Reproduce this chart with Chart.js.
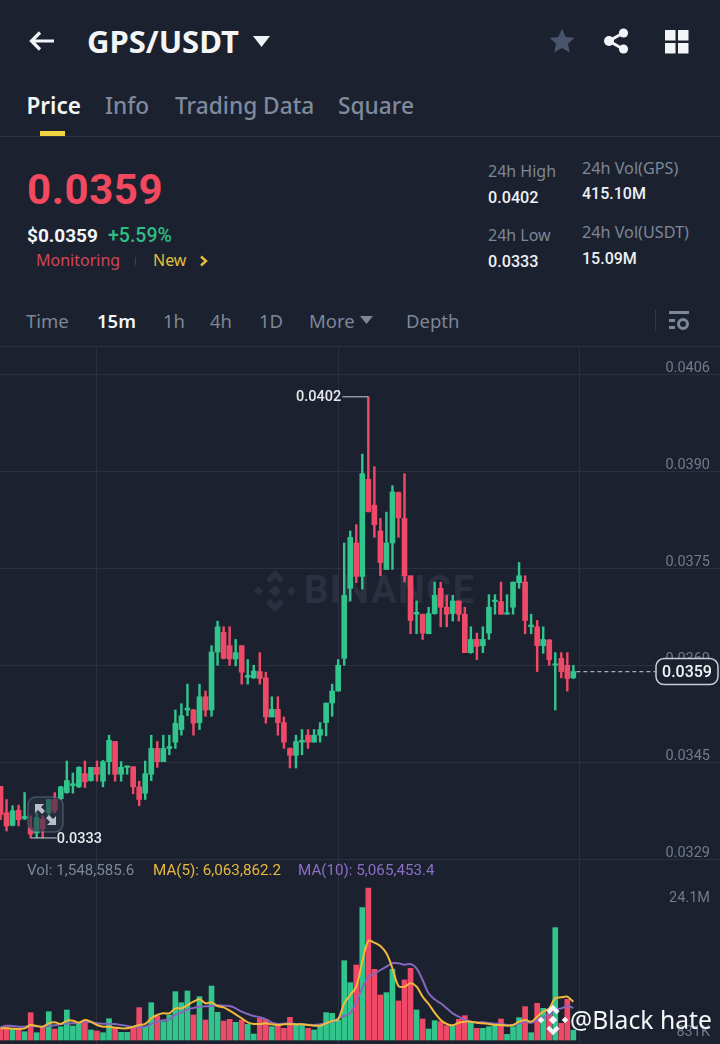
<!DOCTYPE html>
<html><head><meta charset="utf-8">
<script src="https://cdn.jsdelivr.net/npm/chart.js@4"></script>
<style>
html,body{margin:0;padding:0;background:#1b212e;}
#page{position:relative;width:720px;height:1044px;overflow:hidden;background:#1b212e;font-family:Roboto,"Noto Sans",sans-serif;}
.t{position:absolute;white-space:nowrap;line-height:1;}
.n{font-family:"Noto Sans",Roboto,sans-serif;}
.g{color:#7d8797;}
svg{position:absolute;}
canvas{position:absolute;left:0;top:347px;}
</style></head><body><div id="page">
<svg style="left:28px;top:29px" width="28" height="24" viewBox="0 0 28 24"><path d="M26 12H4M12 3.500L3.500 12L12 20.500" fill="none" stroke="#f2f4f7" stroke-width="3.200"/></svg>
<div class="t n" style="left:87px;top:26px;font-size:31px;font-weight:700;color:#f4f5f7;">GPS/USDT</div>
<svg style="left:252px;top:35px" width="19" height="13"><path d="M1 1H18L9.500 12Z" fill="#eef1f5"/></svg>
<svg style="left:548px;top:27px" width="28" height="28" viewBox="0 0 24 24"><path d="M12 1.500l3.200 7 7.400.8-5.500 5 1.600 7.500L12 18l-6.700 3.800 1.600-7.500-5.500-5 7.400-.8z" fill="#48536c"/></svg>
<svg style="left:602px;top:27px" width="28" height="28" viewBox="0 0 28 28"><path d="M21 6L7 14L21 22" stroke="#f2f4f7" stroke-width="3" fill="none"/><circle cx="21.500" cy="6" r="4.600" fill="#f2f4f7"/><circle cx="7" cy="14" r="5" fill="#f2f4f7"/><circle cx="21.500" cy="22" r="4.600" fill="#f2f4f7"/></svg>
<svg style="left:665px;top:30px" width="24" height="24"><rect width="10.500" height="10.500" fill="#f2f4f7"/><rect x="13" width="10.500" height="10.500" fill="#f2f4f7"/><rect y="13" width="10.500" height="10.500" fill="#f2f4f7"/><rect x="13" y="13" width="10.500" height="10.500" fill="#f2f4f7"/></svg>

<div class="t n" style="left:26.500px;top:95px;font-size:22.500px;font-weight:600;color:#f4f5f7;">Price</div>
<div class="t n" style="left:105px;top:95px;font-size:22.700px;font-weight:500;color:#7f8a9e;">Info</div>
<div class="t n" style="left:175px;top:95px;font-size:22.700px;font-weight:500;color:#7f8a9e;">Trading Data</div>
<div class="t n" style="left:338px;top:95px;font-size:22.700px;font-weight:500;color:#7f8a9e;">Square</div>
<div style="position:absolute;left:40px;top:131px;width:25px;height:6px;background:#f3d53f"></div>
<div style="position:absolute;left:0;top:136px;width:720px;height:1px;background:#2a3143"></div>

<div class="t" style="left:27px;top:169px;font-size:42px;font-weight:700;color:#f1495f;letter-spacing:.6px">0.0359</div>
<div class="t" style="left:27px;top:226px;font-size:19px;font-weight:700;color:#f2f4f7;">$0.0359</div>
<div class="t" style="left:108px;top:226px;font-size:19.500px;font-weight:500;color:#2ebd85;">+5.59%</div>
<div class="t n" style="left:36px;top:252px;font-size:16px;color:#cf4659;">Monitoring</div>
<div style="position:absolute;left:135px;top:257px;width:1px;height:8px;background:#3a4152"></div>
<div class="t n" style="left:153px;top:252px;font-size:16px;color:#e5bd3c;">New</div>
<svg style="left:199px;top:255px" width="10" height="12"><path d="M2 1.500L7 6L2 10.500" fill="none" stroke="#e5bd3c" stroke-width="2.400"/></svg>

<div class="t n g" style="left:488px;top:163px;font-size:16px;">24h High</div>
<div class="t" style="left:488px;top:190px;font-size:16.200px;font-weight:500;color:#eef0f4;">0.0402</div>
<div class="t n g" style="left:488px;top:227px;font-size:16px;">24h Low</div>
<div class="t" style="left:488px;top:254px;font-size:16.200px;font-weight:500;color:#eef0f4;">0.0333</div>
<div class="t n g" style="left:582px;top:160px;font-size:16.200px;">24h Vol(GPS)</div>
<div class="t" style="left:582px;top:186px;font-size:16px;font-weight:500;color:#eef0f4;">415.10M</div>
<div class="t n g" style="left:582px;top:224px;font-size:16.200px;">24h Vol(USDT)</div>
<div class="t" style="left:582px;top:251px;font-size:16px;font-weight:500;color:#eef0f4;">15.09M</div>

<div class="t n g" style="left:26px;top:312px;font-size:18.500px;">Time</div>
<div class="t n" style="left:97px;top:312px;font-size:18.500px;font-weight:600;color:#f2f4f7;">15m</div>
<div class="t n g" style="left:163px;top:312px;font-size:18.500px;">1h</div>
<div class="t n g" style="left:210px;top:312px;font-size:18.500px;">4h</div>
<div class="t n g" style="left:259px;top:312px;font-size:18.500px;">1D</div>
<div class="t n g" style="left:309px;top:312px;font-size:18.500px;">More</div>
<svg style="left:360px;top:316px" width="13" height="9"><path d="M0 0H13L6.500 8Z" fill="#7d8797"/></svg>
<div class="t n g" style="left:406px;top:312px;font-size:18.500px;">Depth</div>
<div style="position:absolute;left:655px;top:310px;width:1px;height:21px;background:#323949"></div>
<svg style="left:668px;top:310px" width="23" height="22"><rect x="1" y="1" width="20" height="3" fill="#7d8797"/><rect x="1" y="9" width="6" height="3" fill="#7d8797"/><rect x="1" y="16" width="6" height="3" fill="#7d8797"/><circle cx="15" cy="14" r="4.500" fill="none" stroke="#7d8797" stroke-width="3"/></svg>
<div style="position:absolute;left:0;top:346px;width:720px;height:1px;background:#2a3143"></div>

<svg style="left:253px;top:569px" width="44" height="44" viewBox="0 0 44 44" fill="#2a3040"><path d="M22 1l9 9-4 4-5-5-5 5-4-4zM22 43l-9-9 4-4 5 5 5-5 4 4zM1 22l4.500-4.500 4.500 4.500-4.500 4.500zM34 22l4.500-4.500 4.500 4.500-4.500 4.500zM22 16l6 6-6 6-6-6z"/></svg>
<div class="t" style="left:304px;top:571px;font-size:38px;font-weight:700;color:#2a3040;letter-spacing:1.500px;">BINANCE</div>

<canvas id="c" width="720" height="697"></canvas>

<div class="t" style="left:27px;top:863px;font-size:15.200px;color:#7d8797;">Vol: 1,548,585.6</div>
<div class="t" style="left:153px;top:863px;font-size:15.200px;color:#e8b93f;">MA(5): 6,063,862.2</div>
<div class="t" style="left:298px;top:863px;font-size:15.200px;color:#8b6fc6;">MA(10): 5,065,453.4</div>

<svg style="left:27px;top:796px" width="37" height="37" viewBox="0 0 37 37"><rect x="1" y="1" width="35" height="35" rx="8" fill="rgba(44,52,70,.62)" stroke="rgba(125,135,155,.45)" stroke-width="1.500"/><path d="M8 8h9l-3 3 4 4-3 3-4-4-3 3zM29 29h-9l3-3-4-4 3-3 4 4 3-3z" fill="#b9bfca"/></svg>

<svg style="left:537px;top:1004px" width="32" height="32" viewBox="0 0 44 44" fill="#f2f4f7"><path d="M22 1l9 9-4 4-5-5-5 5-4-4zM22 43l-9-9 4-4 5 5 5-5 4 4zM1 22l4.500-4.500 4.500 4.500-4.500 4.500zM34 22l4.500-4.500 4.500 4.500-4.500 4.500zM22 16l6 6-6 6-6-6z"/></svg>
<div class="t n" style="left:570px;top:1008px;font-size:24.700px;color:#f6f7f9;">@Black hate</div>
</div>
<script>
const opens=[0.03406,0.03364,0.03344,0.03368,0.03355,0.03340,0.03332,0.03354,0.03364,0.03385,0.03386,0.03396,0.03407,0.03405,0.03426,0.03415,0.03436,0.03414,0.03445,0.03477,0.03425,0.03436,0.03437,0.03405,0.03395,0.03425,0.03466,0.03445,0.03466,0.03476,0.03496,0.03527,0.03527,0.03507,0.03548,0.03527,0.03619,0.03650,0.03629,0.03608,
0.03629,0.03579,0.03578,0.03588,0.03578,0.03516,0.03528,0.03507,0.03466,0.03455,0.03476,0.03487,0.03476,0.03487,0.03507,0.03538,0.03557,0.03609,0.03720,0.03792,0.03739,0.03893,0.03852,0.03811,0.03750,0.03792,0.03872,0.03831,0.03740,0.03679,0.03679,0.03648,0.03680,0.03720,0.03690,0.03680,0.03700,0.03679,
0.03618,0.03639,0.03629,0.03649,0.03699,0.03699,0.03679,0.03690,0.03729,0.03730,0.03659,0.03659,0.03629,0.03638,0.03598,0.03609,0.03598,0.03578];
const highs=[0.03406,0.03385,0.03375,0.03376,0.03396,0.03359,0.03364,0.03359,0.03385,0.03396,0.03406,0.03446,0.03427,0.03437,0.03446,0.03436,0.03446,0.03447,0.03487,0.03477,0.03445,0.03438,0.03437,0.03414,0.03446,0.03487,0.03477,0.03487,0.03487,0.03527,0.03537,0.03568,0.03528,0.03568,0.03557,0.03629,0.03668,0.03659,0.03659,0.03639,
0.03629,0.03607,0.03598,0.03618,0.03587,0.03548,0.03548,0.03516,0.03467,0.03487,0.03496,0.03496,0.03496,0.03507,0.03538,0.03568,0.03607,0.03792,0.03811,0.03821,0.03933,0.04024,0.03913,0.03831,0.03841,0.03883,0.03873,0.03902,0.03740,0.03700,0.03679,0.03690,0.03730,0.03730,0.03709,0.03709,0.03700,0.03690,
0.03659,0.03649,0.03659,0.03710,0.03710,0.03730,0.03710,0.03730,0.03761,0.03740,0.03679,0.03669,0.03659,0.03639,0.03618,0.03618,0.03618,0.03598];
const lows=[0.03353,0.03335,0.03343,0.03343,0.03353,0.03324,0.03324,0.03324,0.03359,0.03364,0.03385,0.03395,0.03395,0.03404,0.03404,0.03414,0.03414,0.03405,0.03425,0.03414,0.03414,0.03425,0.03394,0.03375,0.03385,0.03415,0.03436,0.03445,0.03456,0.03466,0.03487,0.03518,0.03487,0.03496,0.03517,0.03517,0.03598,0.03608,0.03598,0.03597,
0.03568,0.03568,0.03577,0.03568,0.03506,0.03516,0.03487,0.03466,0.03435,0.03435,0.03456,0.03466,0.03476,0.03476,0.03486,0.03517,0.03557,0.03598,0.03700,0.03729,0.03719,0.03841,0.03801,0.03740,0.03750,0.03750,0.03801,0.03730,0.03648,0.03648,0.03639,0.03648,0.03679,0.03659,0.03659,0.03668,0.03668,0.03618,
0.03617,0.03607,0.03618,0.03639,0.03679,0.03679,0.03679,0.03679,0.03720,0.03648,0.03648,0.03588,0.03617,0.03598,0.03527,0.03578,0.03557,0.03577];
const closes=[0.03361,0.03343,0.03367,0.03353,0.03358,0.03330,0.03356,0.03338,0.03385,0.03367,0.03405,0.03415,0.03410,0.03436,0.03413,0.03436,0.03425,0.03445,0.03479,0.03425,0.03436,0.03438,0.03405,0.03385,0.03426,0.03466,0.03445,0.03466,0.03469,0.03506,0.03518,0.03530,0.03506,0.03548,0.03527,0.03619,0.03659,0.03609,0.03608,0.03618,
0.03587,0.03582,0.03589,0.03577,0.03516,0.03528,0.03507,0.03476,0.03455,0.03477,0.03479,0.03476,0.03487,0.03496,0.03538,0.03557,0.03598,0.03709,0.03801,0.03739,0.03902,0.03842,0.03821,0.03761,0.03792,0.03873,0.03832,0.03740,0.03669,0.03682,0.03649,0.03680,0.03709,0.03690,0.03679,0.03700,0.03679,0.03618,
0.03639,0.03628,0.03639,0.03690,0.03701,0.03679,0.03681,0.03730,0.03740,0.03669,0.03662,0.03629,0.03639,0.03607,0.03600,0.03588,0.03577,0.03588];
const volumes=[1.85,2.11,1.74,1.85,1.32,4.34,1.16,2.11,4.49,1.74,2.11,4.76,2.22,2.64,2.91,1.59,1.43,1.16,3.38,1.85,1.22,1.22,1.96,5.13,2.11,5.92,3.81,2.91,3.97,7.67,5.92,7.77,3.97,6.87,3.17,8.56,4.39,3.01,3.28,2.80,
3.17,2.48,0.95,3.44,3.28,2.11,2.38,1.85,3.60,2.54,2.54,1.85,1.59,2.27,4.34,4.23,3.17,12.58,9.09,11.90,20.99,24.10,11.21,7.14,7.51,11.21,6.19,9.52,11.37,4.76,3.33,1.74,3.07,2.91,2.27,2.27,3.28,3.86,2.91,1.85,
1.85,2.11,2.27,3.33,0.90,2.11,3.54,5.29,1.16,5.82,5.02,4.23,17.82,2.64,6.45,1.55];
const ma5=[1.85,1.85,1.80,1.74,1.85,2.38,2.22,2.11,2.64,2.80,2.54,3.07,3.07,2.75,3.17,2.91,2.38,2.11,2.11,1.96,1.85,1.85,2.11,2.38,2.54,3.44,3.97,4.23,4.23,5.02,5.02,5.55,6.08,6.45,5.82,5.97,5.39,5.18,4.65,4.07,
3.44,2.80,2.54,2.54,2.64,2.48,2.38,2.48,2.54,2.48,2.48,2.38,2.27,2.27,2.64,3.01,3.28,5.82,7.14,8.46,12.42,15.70,15.44,14.91,13.75,11.37,8.56,8.46,8.99,8.46,6.87,5.71,4.34,3.17,2.54,2.33,2.75,2.91,2.91,2.75,
2.64,2.54,2.38,2.38,2.27,2.38,2.91,3.17,2.91,3.70,4.49,5.02,6.61,6.77,6.87,6.06];
const ma10=[2.01,2.27,2.22,2.11,2.11,2.22,2.17,2.11,2.22,2.33,2.54,2.59,2.64,2.75,2.91,2.80,2.64,2.59,2.54,2.54,2.38,2.22,2.01,2.06,2.11,2.54,2.91,3.12,3.28,3.97,4.34,4.86,5.08,5.29,5.34,5.39,5.50,5.45,5.39,5.02,
4.49,4.12,3.81,3.60,3.28,2.75,2.54,2.59,2.64,2.54,2.48,2.43,2.38,2.48,2.64,2.91,3.44,3.81,4.23,6.08,8.19,10.05,10.47,11.10,11.63,12.16,12.16,11.95,12.05,11.37,9.52,7.40,6.45,5.82,5.02,4.23,3.70,3.17,2.91,2.80,
2.80,2.70,2.59,2.54,2.38,2.38,2.64,2.91,2.75,3.17,3.60,3.97,4.76,5.02,5.39,5.07];
const priceTicks=[0.0406,0.03906,0.03752,0.03598,0.03444,0.0329];
const priceTickLabels=["0.0406","0.0390","0.0375","0.0360","0.0345","0.0329"];
const volTicks=[22.5,1.27];
const volTickLabels=["24.1M","831K"];
const timeGrid=[16,56,96];
const highMark={i:61,value:0.04024,label:"0.0402"};
const lowMark={i:5,value:0.03324,label:"0.0333"};
const lastPrice={value:0.03588,label:"0.0359"};

const GREEN="#31c48d",RED="#ee4a68";
const idx=opens.map((_,i)=>i);
const colors=idx.map(i=>closes[i]>=opens[i]?GREEN:RED);
const base={type:'bar',grouped:false,borderWidth:0,backgroundColor:colors,xAxisID:'x'};
const marks={id:'marks',afterDatasetsDraw(ch){
  const {ctx,scales:{x,price}}=ch;
  ctx.save();
  ctx.font='500 14.5px Roboto';ctx.textBaseline='middle';
  let yy=price.getPixelForValue(highMark.value),xx=x.getPixelForValue(highMark.i);
  ctx.strokeStyle='#aeb4bf';ctx.lineWidth=1.2;ctx.beginPath();ctx.moveTo(xx,yy);ctx.lineTo(xx-26,yy);ctx.stroke();
  ctx.fillStyle='#e6e8ec';ctx.textAlign='right';ctx.fillText(highMark.label,xx-27,yy+1);
  yy=price.getPixelForValue(lowMark.value);xx=x.getPixelForValue(lowMark.i);
  ctx.beginPath();ctx.moveTo(xx,yy);ctx.lineTo(xx+26,yy);ctx.stroke();
  ctx.textAlign='left';ctx.fillText(lowMark.label,xx+26,yy+1);
  yy=price.getPixelForValue(lastPrice.value);xx=x.getPixelForValue(95);
  ctx.setLineDash([4,3]);ctx.strokeStyle='#a4abb7';ctx.lineWidth=1.3;
  ctx.beginPath();ctx.moveTo(xx+3,yy);ctx.lineTo(655,yy);ctx.stroke();ctx.setLineDash([]);
  ctx.fillStyle='#1b212e';ctx.strokeStyle='#c8cdd5';ctx.lineWidth=1.5;
  ctx.beginPath();ctx.roundRect(656,yy-13,62,26,8);ctx.fill();ctx.stroke();
  ctx.fillStyle='#f2f4f7';ctx.font='500 16px Roboto';ctx.textAlign='center';ctx.fillText(lastPrice.label,687,yy+1);
  ctx.restore();
}};
new Chart(document.getElementById('c'),{
  data:{datasets:[
    {...base,label:'Volume',yAxisID:'vol',order:4,barThickness:5,data:idx.map(i=>({x:i,y:volumes[i]}))},
    {...base,label:'Wick',yAxisID:'price',order:3,barThickness:1.8,data:idx.map(i=>({x:i,y:[lows[i],highs[i]]}))},
    {...base,label:'Body',yAxisID:'price',order:2,barThickness:5,minBarLength:1.5,data:idx.map(i=>({x:i,y:[opens[i],closes[i]]}))},
    {type:'line',label:'MA(10)',yAxisID:'vol',order:1,borderColor:'#8467bd',borderWidth:2,pointRadius:0,tension:.35,data:idx.map(i=>({x:i,y:ma10[i]}))},
    {type:'line',label:'MA(5)',yAxisID:'vol',order:0,borderColor:'#f3b93a',borderWidth:2,pointRadius:0,tension:.35,data:idx.map(i=>({x:i,y:ma5[i]}))}
  ]},
  options:{responsive:false,animation:false,devicePixelRatio:1,
    layout:{padding:0},
    plugins:{legend:{display:false},tooltip:{enabled:false}},
    scales:{
      x:{type:'linear',min:-0.083,max:119.32,offset:false,
        afterBuildTicks(s){s.ticks=timeGrid.map(v=>({value:v}));},
        afterFit(s){s.height=0;},
        ticks:{display:false},border:{display:false},
        grid:{offset:false,color:'#2a3040',lineWidth:1,drawTicks:false}},
      price:{type:'linear',position:'right',min:0.02997,max:0.04103,
        afterBuildTicks(s){s.ticks=priceTicks.map(v=>({value:v}));},
        afterFit(s){s.width=0;},
        border:{display:false},
        grid:{color:'#2a3040',lineWidth:1,drawTicks:false},
        ticks:{mirror:true,padding:-10,labelOffset:-6,color:'#717b8b',font:{family:'Roboto',size:14.5},
          callback:(v,i)=>priceTickLabels[i]}},
      vol:{type:'linear',position:'right',min:-0.634,max:109.9,
        afterBuildTicks(s){s.ticks=volTicks.map(v=>({value:v}));},
        afterFit(s){s.width=0;},
        border:{display:false},grid:{display:false,drawTicks:false},
        ticks:{mirror:true,padding:-10,color:'#717b8b',font:{family:'Roboto',size:14.5},
          callback:(v,i)=>volTickLabels[i]}}
    }},
  plugins:[marks]
});
</script></body></html>
